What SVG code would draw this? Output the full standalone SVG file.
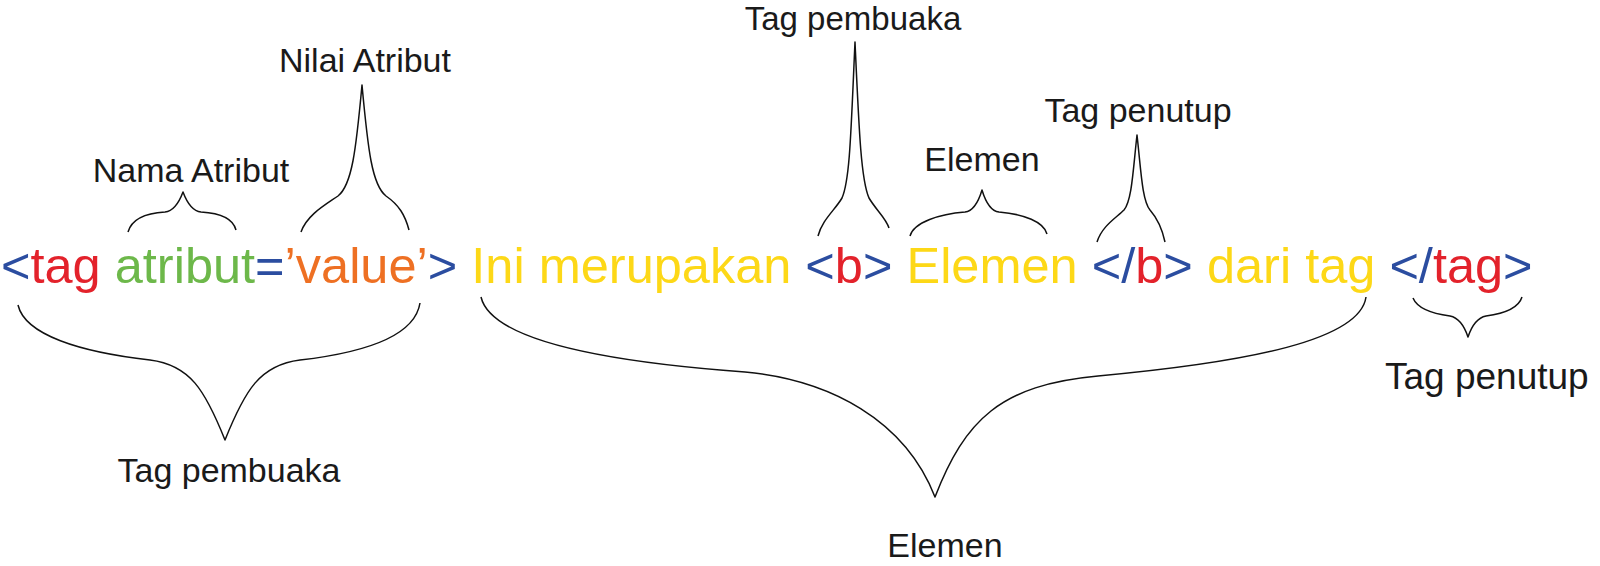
<svg xmlns="http://www.w3.org/2000/svg" width="1600" height="566" viewBox="0 0 1600 566">
<style>
  .code { font-family: "Liberation Sans", Arial, sans-serif; font-size: 50.5px; }
  .lbl { font-family: "Liberation Sans", Arial, sans-serif; font-size: 34px; fill: #1a1a1a; text-anchor: middle; }
  .br { fill: none; stroke: #111; stroke-width: 1.5; stroke-linejoin: round; }
  .bl { fill: #2B4DA0; }
  .rd { fill: #E3222B; }
  .gr { fill: #6DB84A; }
  .or { fill: #EE7023; }
  .ye { fill: #FDD817; }
</style>
<rect width="1600" height="566" fill="#ffffff"/>
<g id="code-line">
  <text class="code" x="1" y="283" xml:space="preserve"><tspan class="bl">&lt;</tspan><tspan class="rd">tag</tspan> <tspan class="gr">atribut</tspan><tspan class="bl">=</tspan><tspan class="or">’value’</tspan><tspan class="bl">&gt;</tspan> <tspan class="ye">Ini merupakan</tspan> <tspan class="bl">&lt;</tspan><tspan class="rd">b</tspan><tspan class="bl">&gt;</tspan> <tspan class="ye">Elemen</tspan> <tspan class="bl">&lt;/</tspan><tspan class="rd">b</tspan><tspan class="bl">&gt;</tspan> <tspan class="ye">dari tag</tspan> <tspan class="bl">&lt;/</tspan><tspan class="rd">tag</tspan><tspan class="bl">&gt;</tspan></text>
</g>
<g id="connectors">
  <path class="br" d="M128,232 C132,218 148,213 165,212 C175,211 180,200 183,192 C186,200 191,211 201,212 C218,213 233,218 236,230"/>
  <path class="br" d="M301,232 C307,215 325,205 338,196 C352,185 356,150 362,85 C368,150 372,185 386,196 C399,205 405,215 409,230"/>
  <path class="br" d="M818,236 C822,220 835,210 842,198 C850,180 851,130 855,42 C859,130 861,180 869,198 C876,210 886,218 889,228"/>
  <path class="br" d="M910,236 C914,222 940,214 965,212 C974,211 979,200 982,190 C985,200 990,211 999,212 C1024,214 1044,222 1047,234"/>
  <path class="br" d="M1097,242 C1102,226 1116,218 1124,210 C1132,200 1133,170 1137,135 C1141,170 1142,200 1150,210 C1157,218 1162,228 1165,242"/>
  <path class="br" d="M18,305 C25,335 80,352 150,360 C190,365 205,390 225,440 C245,390 260,365 300,360 C370,352 415,335 420,303"/>
  <path class="br" d="M481,297 C490,335 580,360 745,372 C830,380 905,420 935,497 C965,420 1000,385 1098,376 C1250,362 1360,340 1366,297"/>
  <path class="br" d="M1413,298 C1418,310 1435,314 1450,316 C1460,318 1465,328 1468,337 C1471,328 1476,318 1486,316 C1501,314 1518,310 1522,297"/>
</g>
<g id="label-nama-atribut"><text class="lbl" x="191" y="182">Nama Atribut</text></g>
<g id="label-nilai-atribut"><text class="lbl" x="365" y="72">Nilai Atribut</text></g>
<g id="label-tag-pembuka-top"><text class="lbl" x="853" y="30" style="font-size:33px">Tag pembuaka</text></g>
<g id="label-elemen-top"><text class="lbl" x="982" y="171">Elemen</text></g>
<g id="label-tag-penutup-top"><text class="lbl" x="1138" y="122">Tag penutup</text></g>
<g id="label-tag-penutup-bottom"><text class="lbl" x="1385" y="389" style="text-anchor:start;font-size:37px">Tag penutup</text></g>
<g id="label-tag-pembuka-bottom"><text class="lbl" x="229" y="482">Tag pembuaka</text></g>
<g id="label-elemen-bottom"><text class="lbl" x="945" y="557">Elemen</text></g>
</svg>
